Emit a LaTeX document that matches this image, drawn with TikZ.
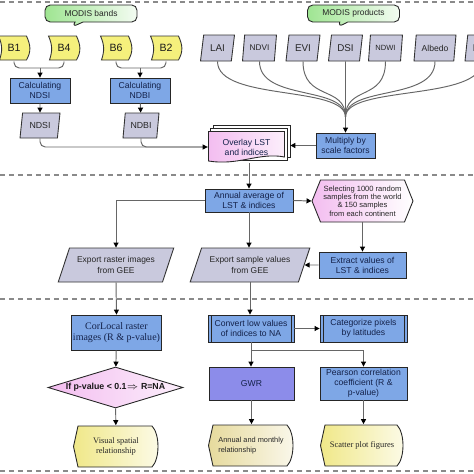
\documentclass[tikz,border=0pt]{standalone}
\usepackage{fontspec}
\setmainfont{Liberation Sans}
\newfontfamily\timesfont{Liberation Serif}
\usepackage{xcolor}
\usetikzlibrary{shapes.geometric,shapes.symbols,shapes.callouts,shadows,arrows.meta}
\definecolor{bandyel}{HTML}{F5F07C}
\definecolor{prodgray}{HTML}{C9C9DD}
\definecolor{calcblue}{HTML}{7EA7E6}
\definecolor{gwrblue}{HTML}{8C8CEA}
\definecolor{pinkfill}{HTML}{F3BDF0}
\definecolor{greenfill}{HTML}{9FE592}
\definecolor{dispyel}{HTML}{F0E888}
\definecolor{disptan}{HTML}{E6DA9C}
\definecolor{inknavy}{HTML}{14224A}
\definecolor{sepgray}{HTML}{8A8A8A}

\begin{document}
\begin{tikzpicture}[x=0.02cm, y=-0.02cm,
  line/.style={draw=black!60, line width=0.55pt},
  arr/.style={line, -{Triangle[length=0.1cm, width=0.1cm, color=black]}},
  sep/.style={draw=sepgray, line width=1.2pt, dash pattern=on 0.11cm off 0.07cm},
  band/.style={minimum width=0.66cm, minimum height=0.52cm, inner sep=0pt, text=black!90,
    font=\fontsize{6}{7}\selectfont,
    path picture={
      \filldraw[fill=bandyel, draw=black!80, line width=0.5pt]
        ([shift={(1,1)}]path picture bounding box.north west)
        .. controls +(4,9) and +(3,-9) .. ([shift={(2,-1)}]path picture bounding box.south west)
        -- ([shift={(-4,-1)}]path picture bounding box.south east)
        .. controls +(5,-9) and +(4,9) .. ([shift={(-4,1)}]path picture bounding box.north east)
        -- cycle;}},
  product/.style={trapezium, trapezium left angle=76, trapezium right angle=104, trapezium stretches=true,
    draw=black!80, fill=prodgray, line width=0.5pt, minimum width=0.68cm, minimum height=0.52cm,
    inner sep=0pt, align=center, text=black!85, font=\fontsize{5.6}{6.5}\selectfont},
  calcbox/.style={rectangle, draw=black!85, fill=calcblue, line width=0.5pt, inner sep=1pt,
    align=center, text=inknavy, font=\fontsize{4.9}{5.7}\selectfont},
  process/.style={calcbox, minimum width=1.72cm, minimum height=0.54cm,
    path picture={
      \draw[black!85, line width=0.5pt]
        ([shift={(3,0)}]path picture bounding box.north west) -- ([shift={(3,0)}]path picture bounding box.south west)
        ([shift={(-3,0)}]path picture bounding box.north east) -- ([shift={(-3,0)}]path picture bounding box.south east);}},
  docstack/.style={minimum width=1.54cm, minimum height=0.64cm, inner sep=0pt, align=center, text=inknavy,
    font=\fontsize{4.9}{5.7}\selectfont,
    copy shadow={shadow xshift=0.1cm, shadow yshift=0.12cm, draw=black!85, fill=white, line width=0.5pt},
    copy shadow={shadow xshift=0.05cm, shadow yshift=0.06cm, draw=black!85, fill=white, line width=0.5pt},
    path picture={
      \shadedraw[left color=pinkfill, right color=pinkfill!25, draw=black!85, line width=0.5pt]
        ([shift={(0.5,0.5)}]path picture bounding box.north west)
        -- ([shift={(-0.5,0.5)}]path picture bounding box.north east)
        -- ([shift={(-0.5,-6)}]path picture bounding box.south east)
        .. controls +(-25,-5) and +(30,5) .. ([shift={(0.5,-2)}]path picture bounding box.south west)
        -- cycle;}},
  hexa/.style={signal, signal to=west and east, signal pointer angle=136, draw=black!85, line width=0.5pt,
    left color=pinkfill, right color=white, minimum width=2.02cm, minimum height=0.84cm, inner sep=0pt,
    align=center, text=black!85, font=\fontsize{4.3}{4.8}\selectfont},
  display/.style={minimum width=1.72cm, minimum height=0.84cm, inner sep=0pt, align=center, text=black!85,
    font=\fontsize{4.8}{5.8}\selectfont,
    path picture={
      \shadedraw[left color=#1, right color=#1!20, draw=black!85, line width=0.5pt]
        ([shift={(5,0.5)}]path picture bounding box.north west)
        -- ([shift={(-7,0.5)}]path picture bounding box.north east)
        .. controls +(8,8) and +(8,-8) .. ([shift={(-7,-0.5)}]path picture bounding box.south east)
        -- ([shift={(5,-0.5)}]path picture bounding box.south west)
        -- ([shift={(0.5,0)}]path picture bounding box.west) -- cycle;}},
  note/.style={rectangle callout, rounded corners=3pt, draw=black!85, line width=0.5pt,
    left color=greenfill, right color=greenfill!12, minimum width=1.84cm, minimum height=0.34cm,
    inner sep=0pt, callout pointer width=0.16cm, text=black!85, font=\fontsize{4.8}{5.5}\selectfont},
  decision/.style={diamond, aspect=3.3, draw=black!85, line width=0.5pt, left color=pinkfill,
    right color=pinkfill!25, minimum width=2.7cm, minimum height=0.82cm, inner sep=0pt,
    text=black!90, font=\bfseries\fontsize{5}{6}\selectfont}]

\useasboundingbox (0,0) rectangle (474,474);
\clip (0,0) rectangle (474,474);

% section borders
\draw[sep] (0,2) -- (474,2);
\draw[sep, line width=0.8pt] (0,175) -- (474,175);
\draw[sep, line width=0.8pt] (0,299) -- (474,299);
\draw[sep] (0,471) -- (474,471);

% inputs
\node (bandsnote) [note, callout absolute pointer={(72,27)}] at (91,13.5) {MODIS bands};
\node (prodsnote) [note, callout absolute pointer={(338,27)}] at (353.5,13.5) {MODIS products};

\node (b1) [band] at (14,48) {B1};
\node (b4) [band] at (64,48) {B4};
\node (b6) [band] at (116,48) {B6};
\node (b2) [band] at (166,48) {B2};

\node (lai) [product] at (217.5,48) {LAI};
\node (ndvi) [product, font=\fontsize{4.7}{5.5}\selectfont] at (259.5,48) {NDVI};
\node (evi) [product] at (303,48) {EVI};
\node (dsi) [product] at (345.5,48) {DSI};
\node (ndwi) [product, font=\fontsize{4.3}{5}\selectfont] at (385.5,48) {NDWI};
\node (albedo) [product, minimum width=0.84cm, font=\fontsize{4.9}{5.5}\selectfont] at (435,48) {Albedo};
\node (lst) [product] at (482,48) {LST};

\node (calcndsi) [calcbox, minimum width=1.2cm, minimum height=0.5cm] at (40,90.5) {Calculating\\NDSI};
\node (calcndbi) [calcbox, minimum width=1.2cm, minimum height=0.5cm] at (140,90.5) {Calculating\\NDBI};
\node (ndsi) [product, minimum width=0.8cm, minimum height=0.5cm, font=\fontsize{5}{6}\selectfont] at (40,125.5) {NDSI};
\node (ndbi) [product, minimum width=0.72cm, minimum height=0.5cm, font=\fontsize{5}{6}\selectfont] at (141,125.5) {NDBI};

\node (overlay) [docstack] at (246.5,147) {Overlay LST\\and indices};
\node (mult) [calcbox, minimum width=1.18cm, minimum height=0.5cm] at (345.5,145.5) {Multiply by\\scale factors};

\coordinate (joinndsi) at (40,68);
\coordinate (joinndbi) at (140,68);
\coordinate (merge) at (345.5,117);

\draw[line, rounded corners=3pt] (b1.south) |- (joinndsi);
\draw[line, rounded corners=3pt] (b4.south) |- (joinndsi);
\draw[line, rounded corners=3pt] (b6.south) |- (joinndbi);
\draw[line, rounded corners=3pt] (b2.south) |- (joinndbi);
\draw[arr] (joinndsi) -- (calcndsi);
\draw[arr] (joinndbi) -- (calcndbi);
\draw[arr] (calcndsi) -- (ndsi);
\draw[arr] (calcndbi) -- (ndbi);
\draw[line, rounded corners=3pt] (ndbi.south) |- (overlay.west);
\draw[arr, rounded corners=3pt] (ndsi.south) |- (overlay.west);

\foreach \p in {lai,ndvi,evi,ndwi,albedo,lst}
  \draw[line] (\p.south) .. controls +(0,40) and +(0,-32) .. (merge);
\draw[line] (dsi.south) -- (merge);
\draw[arr] (merge) -- (mult.north);
\draw[arr] (mult.west) -- ([xshift=0.1cm]mult.west -| overlay.east);

% sampling and export
\node (annual) [calcbox, minimum width=1.76cm, minimum height=0.46cm] at (249,200.5) {Annual average of\\LST \& indices};
\node (select) [hexa] at (362.5,201) {Selecting 1000 random\\samples from the world\\\& 150 samples\\from each continent};
\node (raster) [product, trapezium left angle=60, trapezium right angle=120, minimum width=2.32cm,
  minimum height=0.68cm, font=\fontsize{4.8}{5.8}\selectfont] at (116,265) {Export raster images\\from GEE};
\node (sample) [product, trapezium left angle=60, trapezium right angle=120, minimum width=2.4cm,
  minimum height=0.68cm, font=\fontsize{4.8}{5.8}\selectfont] at (250,265) {Export sample values\\from GEE};
\node (extract) [calcbox, minimum width=1.74cm, minimum height=0.52cm] at (362.5,265) {Extract values of\\LST \& indices};

\draw[arr] (annual.north |- overlay.south) -- (annual.north);
\draw[arr] (annual.east) -- (select.west);
\draw[arr] (annual.west) -| (raster.north);
\draw[arr] (annual.south) -- (annual.south |- sample.north);
\draw[arr] (select.south) -- (extract.north);
\draw[arr] (extract.west) -- (sample.east);

% analysis
\node (corlocal) [calcbox, minimum width=1.78cm, minimum height=0.7cm,
  font=\timesfont\fontsize{5.7}{6.3}\selectfont] at (116.5,332.5) {CorLocal raster\\images (R \& p-value)};
\node (pcheck) [decision] at (115.5,387.5) {If p-value < 0.1$\Rightarrow$ R=NA};
\node (visual) [display=dispyel, font=\timesfont\fontsize{4.8}{5.8}\selectfont] at (116,446.5) {Visual spatial\\relationship};

\node (convert) [process] at (251,328.5) {Convert low values\\of indices to NA};
\node (categ) [process, minimum width=1.74cm] at (363.5,328.5) {Categorize pixels\\by latitudes};
\coordinate (split) at (251,350);
\node (gwr) [calcbox, fill=gwrblue, minimum width=1.7cm, minimum height=0.66cm] at (251.5,383.5) {GWR};
\node (pearson) [calcbox, minimum width=1.74cm, minimum height=0.66cm] at (363.5,383.5) {Pearson correlation\\coefficient (R \&\\p-value)};
\node (annmon) [display=disptan, align=left, font=\fontsize{4.2}{5.6}\selectfont] at (251,445.5) {Annual and monthly\\relationship};
\node (scatter) [display=dispyel, minimum width=1.68cm, font=\timesfont\fontsize{4.8}{5.8}\selectfont] at (362,445.5) {Scatter plot figures};

\draw[arr] (raster.south) -- (corlocal.north);
\draw[arr] (corlocal) -- (pcheck);
\draw[arr] (pcheck) -- (visual);
\draw[arr] (sample.south) -- (sample.south |- convert.north);
\draw[arr] (convert.east) -- (categ.west);
\draw[line] (convert.south) -- (split);
\draw[arr] (split) -| (pearson.north);
\draw[arr] (split) -- (split |- gwr.north);
\draw[arr] (gwr.south) -- (gwr.south |- annmon.north);
\draw[arr] (pearson) -- (pearson.south |- scatter.north);
\end{tikzpicture}
\end{document}
